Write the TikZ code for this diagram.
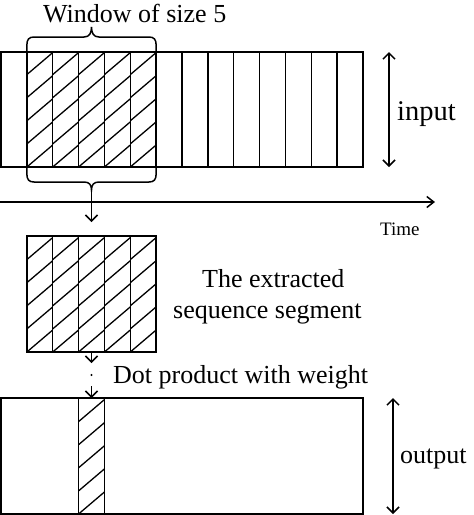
\documentclass[tikz,border=0pt]{standalone}
\usepackage{fontspec}
\setmainfont{Liberation Serif}
\usetikzlibrary{arrows.meta}
\tikzset{
  box/.style={line width=1.5pt},
  hatchline/.style={line width=1.3pt},
  dblarr/.style={line width=1.5pt, {Straight Barb[length=6pt,width=12pt]}-{Straight Barb[length=6pt,width=12pt]}},
  downarr/.style={line width=1.5pt, -{Straight Barb[length=6pt,width=12pt]}},
  timearr/.style={line width=1.5pt, -{Straight Barb[length=7pt,width=11pt]}},
  lbl/.style={inner sep=0pt, anchor=base west, font=\fontsize{26}{31}\selectfont},
}
\newcommand{\hcell}[3]{%
  \begin{scope}
    \clip (#1,#2) rectangle (#1+25.86,#3);
    \foreach \k in {0,...,5}{
      \draw[hatchline] (#1,#3-\k*23.1) -- ++(25.86,-22);
    }
  \end{scope}}
\begin{document}
\begin{tikzpicture}[x=1pt,y=-1pt]
\useasboundingbox (0,0) rectangle (474,515);
% ---------- input ----------
\foreach \i in {1,...,5}{\hcell{1+\i*25.857}{52}{167}}
\coordinate (inTL) at (1,52);
\coordinate (inBR) at (363,167);
\draw[box] (inTL) rectangle (inBR);
\foreach \i in {1,...,13}{\draw[box] ({1+\i*25.857},52) -- ({1+\i*25.857},167);}
% braces
\draw[box] (26.86,52) -- (26.86,45) .. controls (26.86,39.5) and (29,37) .. (34,37) -- (84,37)
  .. controls (89.5,37) and (91.5,33) .. (91.5,27)
  .. controls (91.5,33) and (93.5,37) .. (99,37) -- (149,37)
  .. controls (154,37) and (156.14,39.5) .. (156.14,45) -- (156.14,52);
\draw[box] (26.86,167) -- (26.86,174) .. controls (26.86,179.5) and (29,182) .. (34,182) -- (84,182)
  .. controls (89.5,182) and (91.5,185) .. (91.5,190)
  .. controls (91.5,185) and (93.5,182) .. (99,182) -- (149,182)
  .. controls (154,182) and (156.14,179.5) .. (156.14,174) -- (156.14,167);
\coordinate (brTip) at (91.5,190);
\coordinate (brEnd) at (91.5,222);
\draw[downarr] (brTip) -- (brEnd);
% input arrow
\coordinate (inA1) at (389,52);
\coordinate (inA2) at (389,167);
\draw[dblarr] (inA1) -- (inA2);
% time axis
\coordinate (t0) at (0,202);
\coordinate (t1) at (435,202);
\draw[timearr] (t0) -- (t1);
% ---------- extracted segment ----------
\foreach \i in {1,...,5}{\hcell{1+\i*25.857}{236}{352}}
\draw[box] (26.86,236) rectangle (156.14,352);
\foreach \i in {2,...,5}{\draw[box] ({1+\i*25.857},236) -- ({1+\i*25.857},352);}
\coordinate (segB) at (91.5,352);
\coordinate (segA) at (91.5,363);
\draw[downarr] (segB) -- (segA);
\fill (91.5,375) circle (1.2pt);
\coordinate (outA0) at (91.5,386);
\coordinate (outT) at (91.5,398);
\draw[downarr] (outA0) -- (outT);
% ---------- output ----------
\hcell{78.57}{398}{514}
\draw[box] (1,398) rectangle (363,514);
\draw[box] (78.57,398) -- (78.57,514);
\draw[box] (104.43,398) -- (104.43,514);
\coordinate (oA1) at (393,398);
\coordinate (oA2) at (393,514);
\draw[dblarr] (oA1) -- (oA2);
% ---------- labels ----------
\node[lbl] (win) at (43,22) {Window of size 5};
\node[lbl, font=\fontsize{28.5}{34}\selectfont] (inp) at (397,120) {input};
\node[lbl, font=\fontsize{19}{23}\selectfont] (time) at (380,235) {Time};
\node[lbl] (ext1) at (202,287) {The extracted};
\node[lbl] (ext2) at (173,318) {sequence segment};
\node[lbl] (dotp) at (113,383) {Dot product with weight};
\node[lbl] (outp) at (400,463) {output};
\end{tikzpicture}
\end{document}
